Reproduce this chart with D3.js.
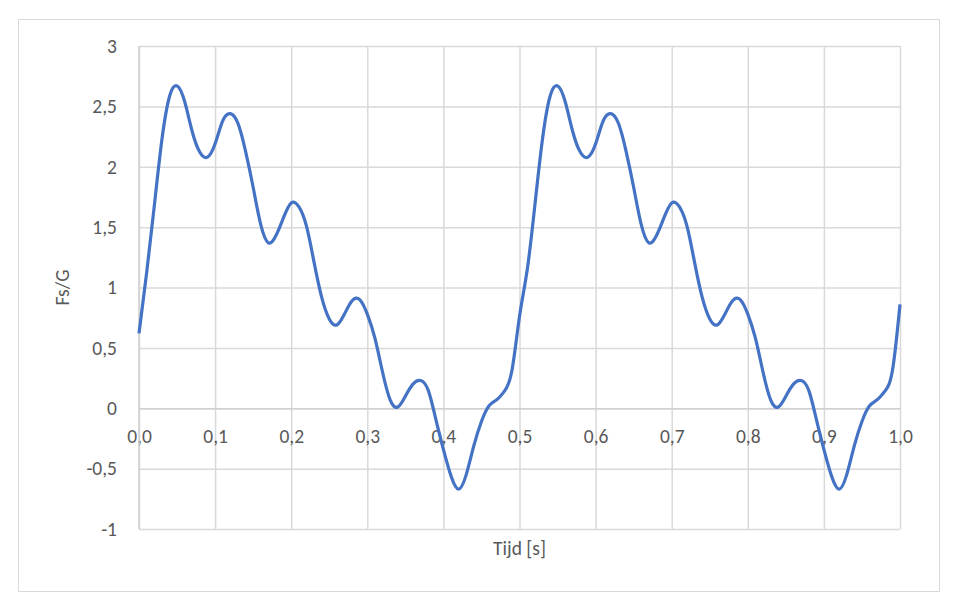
<!DOCTYPE html>
<html>
<head>
<meta charset="utf-8">
<script src="https://cdn.jsdelivr.net/npm/d3@7"></script>
<style>
  html, body { margin: 0; padding: 0; background: #fff; }
  svg { display: block; }
  text { font-family: Carlito, Lato, "Open Sans", sans-serif; fill: #595959; }
</style>
</head>
<body>
<svg id="chart" width="960" height="611"></svg>
<script>
// Time values (s)
const tijd = [
  0.00,0.01,0.02,0.03,0.04,0.05,0.06,0.07,0.08,0.09,
  0.10,0.11,0.12,0.13,0.14,0.15,0.16,0.17,0.18,0.19,
  0.20,0.21,0.22,0.23,0.24,0.25,0.26,0.27,0.28,0.29,
  0.30,0.31,0.32,0.33,0.34,0.35,0.36,0.37,0.38,0.39,
  0.40,0.41,0.42,0.43,0.44,0.45,0.46,0.47,0.48,0.49,
  0.50,0.51,0.52,0.53,0.54,0.55,0.56,0.57,0.58,0.59,
  0.60,0.61,0.62,0.63,0.64,0.65,0.66,0.67,0.68,0.69,
  0.70,0.71,0.72,0.73,0.74,0.75,0.76,0.77,0.78,0.79,
  0.80,0.81,0.82,0.83,0.84,0.85,0.86,0.87,0.88,0.89,
  0.90,0.91,0.92,0.93,0.94,0.95,0.96,0.97,0.98,0.99,
  1.00
];
// Fs/G values
const fsG = [
  0.62,1.12,1.67,2.22,2.58,2.67,2.54,2.29,2.12,2.08,
  2.19,2.38,2.44,2.36,2.13,1.83,1.52,1.37,1.43,1.58,
  1.70,1.67,1.51,1.21,0.92,0.74,0.69,0.78,0.89,0.90,
  0.78,0.58,0.30,0.07,0.01,0.10,0.20,0.23,0.15,-0.09,
  -0.34,-0.56,-0.67,-0.55,-0.31,-0.11,0.02,0.07,0.14,0.31,
  0.76,1.14,1.67,2.22,2.58,2.67,2.54,2.29,2.12,2.08,
  2.19,2.38,2.44,2.36,2.13,1.83,1.52,1.37,1.43,1.58,
  1.70,1.67,1.51,1.21,0.92,0.74,0.69,0.78,0.89,0.90,
  0.78,0.58,0.30,0.07,0.01,0.10,0.20,0.23,0.15,-0.09,
  -0.34,-0.56,-0.67,-0.55,-0.31,-0.11,0.02,0.07,0.14,0.31,
  0.86
];
const xTicks = [0,0.1,0.2,0.3,0.4,0.5,0.6,0.7,0.8,0.9,1.0];
const yTicks = [-1,-0.5,0,0.5,1,1.5,2,2.5,3];
const xLabel = "Tijd [s]";
const yLabel = "Fs/G";

const svg = d3.select("#chart");
const plot = { left: 139, right: 900, top: 46, bottom: 529 };
const FS = "19.5px";
const FF = "Carlito, Lato, 'Open Sans', sans-serif";

// outer chart border
svg.append("rect")
  .attr("x", 18.5).attr("y", 19.5)
  .attr("width", 921).attr("height", 572)
  .attr("fill", "#fff").attr("stroke", "#d9d9d9").attr("stroke-width", 1);

const x = d3.scaleLinear().domain([0, 1]).range([plot.left, plot.right]);
const y = d3.scaleLinear().domain([-1, 3]).range([plot.bottom, plot.top]);

const fmt1 = d => d3.format(".1f")(d).replace(".", ",");
const fmtY = d => String(d).replace(".", ",");

// vertical grid lines
svg.append("g")
  .attr("transform", `translate(0,${plot.top})`)
  .call(d3.axisBottom(x).tickValues(xTicks).tickSize(plot.bottom - plot.top).tickFormat(""))
  .call(g => g.select(".domain").remove())
  .call(g => g.selectAll("line").attr("stroke", "#d9d9d9").attr("stroke-width", 1.5));

// horizontal grid lines
svg.append("g")
  .attr("transform", `translate(${plot.left},0)`)
  .call(d3.axisRight(y).tickValues(yTicks).tickSize(plot.right - plot.left).tickFormat(""))
  .call(g => g.select(".domain").remove())
  .call(g => g.selectAll("line").attr("stroke", "#d9d9d9").attr("stroke-width", 1.5));

// y-axis labels
svg.append("g")
  .attr("transform", `translate(${plot.left},0)`)
  .call(d3.axisLeft(y).tickValues(yTicks).tickSize(0).tickPadding(22).tickFormat(fmtY))
  .call(g => g.select(".domain").remove())
  .call(g => g.selectAll("text").style("font-size", FS).attr("fill", "#595959").style("font-family", FF));

// x-axis at y = 0 with labels below
svg.append("g")
  .attr("transform", `translate(0,${y(0)})`)
  .call(d3.axisBottom(x).tickValues(xTicks).tickSize(0).tickPadding(21).tickFormat(fmt1))
  .call(g => g.select(".domain").attr("stroke", "#d0d0d0").attr("stroke-width", 1.5))
  .call(g => g.selectAll("text").style("font-size", FS).attr("fill", "#595959").style("font-family", FF));

// left axis line
svg.append("line")
  .attr("x1", plot.left).attr("x2", plot.left)
  .attr("y1", plot.top).attr("y2", plot.bottom)
  .attr("stroke", "#d0d0d0").attr("stroke-width", 1.5);

// data line
const pts = tijd.map((t, i) => [t, fsG[i]]);
const line = d3.line().x(d => x(d[0])).y(d => y(d[1])).curve(d3.curveNatural);
svg.append("path")
  .datum(pts)
  .attr("d", line)
  .attr("fill", "none")
  .attr("stroke", "#4472C4")
  .attr("stroke-width", 3.2)
  .attr("stroke-linejoin", "round");

// axis titles
svg.append("text")
  .attr("x", (plot.left + plot.right) / 2)
  .attr("y", 555)
  .attr("text-anchor", "middle")
  .style("font-size", FS)
  .text(xLabel);

svg.append("text")
  .attr("transform", `translate(69,${(plot.top + plot.bottom) / 2}) rotate(-90)`)
  .attr("text-anchor", "middle")
  .style("font-size", FS)
  .text(yLabel);
</script>
</body>
</html>
